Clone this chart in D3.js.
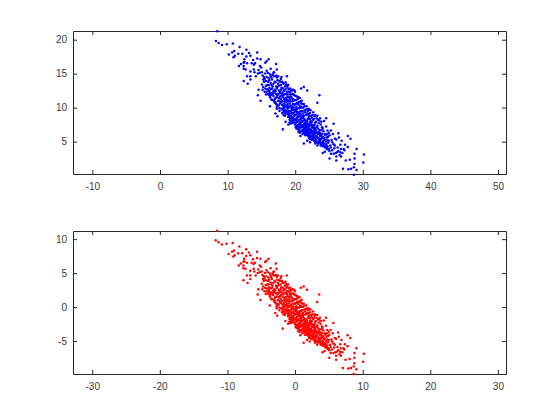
<!DOCTYPE html>
<html><head><meta charset="utf-8">
<script src="https://cdnjs.cloudflare.com/ajax/libs/d3/7.8.5/d3.min.js"></script>
<style>html,body{margin:0;background:#fff}svg{display:block}</style>
</head><body><svg id="c" width="560" height="420"></svg>
<script>
const topXTicks=[-10,0,10,20,30,40,50];
const topYTicks=[5,10,15,20];
const botXTicks=[-30,-20,-10,0,10,20,30];
const botYTicks=[-5,0,5,10];
const topXDomain=[-12.87,51.18];
const topYDomain=[0.24,21.28];
const botXDomain=[-32.84,31.2];
const botYDomain=[-9.87,11.2];
const bluePoints=[
[8.4,21.3],[8.2,19.9],[8.6,19.6],[9.1,19.3],[9.8,19.4],[10.7,19.5],[11.7,19.0],[12.7,18.6],[10.9,18.4],[10.6,18.2],[10.1,17.9],[11.0,17.7],[10.8,17.5],[11.5,18.0],[12.1,18.0],[13.1,18.1],[13.3,17.7],[14.3,18.2],[12.7,17.6],[12.4,17.2],[12.4,16.8],[12.3,16.7],[13.7,17.1],[14.3,17.3],[14.8,17.2],[16.0,17.2],[15.7,16.9],[15.5,16.7],[11.9,16.5],[11.6,16.2],[12.8,16.6],[13.5,16.6],[14.0,16.6],[13.8,16.4],[12.3,16.2],[14.7,16.2],[14.9,16.0],[17.1,16.5],[12.3,15.8],[12.6,15.7],[13.3,15.4],[13.8,15.7],[13.9,15.3],[14.5,15.6],[15.0,15.3],[16.3,15.8],[15.7,15.5],[17.2,15.7],[16.8,15.3],[12.8,14.7],[13.3,14.7],[14.1,14.7],[14.4,15.1],[14.7,15.2],[12.3,14.0],[12.9,13.6],[13.3,14.2],[14.5,12.7],[14.4,11.9],[14.8,11.1],
[23.5,11.9],[23.2,10.8],[21.7,12.6],[21.2,13.1],[20.8,12.9],[18.7,14.7],[16.2,10.3],[17.0,9.2],[17.3,8.8],[18.5,8.0],[18.9,7.6],[18.1,6.9],[25.6,7.7],[24.5,8.5],[26.3,6.3],[27.7,5.9],[28.1,5.5],[27.3,4.6],[29.0,4.0],[30.1,3.2],[30.0,2.0],[28.7,3.3],[28.7,2.6],[28.0,2.4],[27.4,2.3],[26.0,2.3],[26.0,2.9],[25.0,2.6],[24.0,3.4],[24.3,3.6],[27.0,1.1],[27.8,1.0],[28.2,1.1],[28.6,1.3],[29.0,0.9],[28.6,0.2],[28.7,1.8],[26.7,2.9],[21.2,4.8],[20.7,5.9],[21.7,5.2],[22.1,5.0],[22.9,4.8],[23.2,4.5],[24.0,4.4],[24.6,4.0],[25.2,3.3],[26.6,3.5],[27.1,4.0],[27.7,4.3],[27.2,3.8],
[15.1,14.8],[15.3,13.9],[15.2,13.1],[15.4,14.3],[15.5,15.1],[15.6,13.3],[15.7,14.6],[15.8,12.8],[15.4,12.4],[15.9,13.9],[15.1,12.7],[15.6,14.0],[15.9,15.2],[15.3,14.6],[15.8,13.4],[15.0,13.5],
[16.0,14.4],[16.1,13.0],[16.2,15.0],[16.3,13.7],[16.4,12.2],[16.5,14.2],[16.6,13.2],[16.7,11.8],[16.8,14.7],[16.9,12.7],[16.1,12.4],[16.3,14.7],[16.5,12.9],[16.7,13.6],[16.2,11.6],[16.6,14.9],[16.9,13.9],[16.0,13.4],[16.4,13.4],[16.8,12.3],[16.3,11.9],[16.7,15.2],[16.5,11.2],[16.9,11.3],[16.1,14.1],
[17.0,13.8],[17.1,12.1],[17.2,14.5],[17.3,13.1],[17.4,11.1],[17.5,12.6],[17.6,14.0],[17.7,10.7],[17.8,13.4],[17.9,11.9],[17.0,10.9],[17.2,11.6],[17.4,13.6],[17.6,12.2],[17.8,12.7],[17.1,13.2],[17.3,10.5],[17.5,11.5],[17.7,13.9],[17.9,10.9],[17.0,12.5],[17.2,12.9],[17.4,12.1],[17.6,11.0],[17.8,14.3],[17.1,14.8],[17.3,14.1],[17.5,13.3],[17.7,11.7],[17.9,13.0],[17.2,10.2],[17.6,10.0],[17.4,14.7],[17.8,11.3],[17.9,14.6],
[18.0,12.2],[18.1,10.4],[18.2,13.6],[18.3,11.3],[18.4,9.7],[18.5,12.8],[18.6,10.9],[18.7,13.3],[18.8,11.7],[18.9,9.4],[18.0,13.9],[18.1,11.6],[18.2,10.1],[18.3,12.6],[18.4,11.0],[18.5,13.8],[18.6,12.1],[18.7,10.2],[18.8,13.0],[18.9,11.0],[18.0,11.0],[18.1,12.9],[18.2,11.9],[18.3,10.7],[18.4,13.2],[18.5,10.3],[18.6,9.6],[18.7,12.4],[18.8,10.6],[18.9,12.4],[18.0,9.8],[18.2,12.5],[18.4,12.1],[18.6,13.5],[18.8,12.0],[18.1,13.7],[18.3,9.4],[18.5,11.5],[18.7,11.2],[18.9,13.4],[18.0,10.5],[18.2,9.0],[18.4,10.4],[18.6,11.5],[18.8,9.9],[18.9,10.3],
[19.0,11.6],[19.1,9.2],[19.2,12.9],[19.3,10.4],[19.4,8.6],[19.5,12.1],[19.6,9.8],[19.7,11.1],[19.8,8.9],[19.9,10.6],[19.0,10.1],[19.1,12.3],[19.2,11.0],[19.3,8.9],[19.4,11.5],[19.5,10.2],[19.6,12.7],[19.7,9.3],[19.8,11.9],[19.9,9.5],[19.0,12.8],[19.1,10.7],[19.2,9.6],[19.3,11.7],[19.4,10.0],[19.5,8.5],[19.6,11.3],[19.7,10.1],[19.8,10.5],[19.9,12.4],[19.0,8.8],[19.1,11.3],[19.2,10.3],[19.3,12.5],[19.4,9.3],[19.5,11.0],[19.6,8.7],[19.7,12.0],[19.8,9.7],[19.9,11.2],[19.0,9.6],[19.2,12.0],[19.4,12.6],[19.6,10.6],[19.8,12.6],[19.1,8.3],[19.3,9.6],[19.5,9.2],[19.7,8.4],[19.9,8.2],
[20.0,10.6],[20.1,8.3],[20.2,11.7],[20.3,9.4],[20.4,7.6],[20.5,10.9],[20.6,8.8],[20.7,10.3],[20.8,7.9],[20.9,9.6],[20.0,9.0],[20.1,11.2],[20.2,9.9],[20.3,8.0],[20.4,10.5],[20.5,9.2],[20.6,11.5],[20.7,8.4],[20.8,10.7],[20.9,8.6],[20.0,11.8],[20.1,9.6],[20.2,8.6],[20.3,10.7],[20.4,8.9],[20.5,7.3],[20.6,10.1],[20.7,9.1],[20.8,9.5],[20.9,11.1],[20.0,7.8],[20.1,10.2],[20.2,9.2],[20.3,11.4],[20.4,8.2],[20.5,10.0],[20.6,7.7],[20.7,11.0],[20.8,8.7],[20.9,10.1],[20.0,9.9],[20.2,10.8],[20.4,11.6],[20.6,9.5],[20.8,10.1],[20.1,7.4],[20.3,8.7],[20.5,8.3],[20.7,7.6],[20.9,7.2],
[21.0,9.6],[21.1,7.3],[21.2,10.6],[21.3,8.4],[21.4,6.6],[21.5,9.8],[21.6,7.8],[21.7,9.2],[21.8,6.9],[21.9,8.6],[21.0,8.0],[21.1,10.1],[21.2,8.9],[21.3,7.0],[21.4,9.4],[21.5,8.2],[21.6,10.3],[21.7,7.4],[21.8,9.6],[21.9,7.6],[21.0,10.6],[21.1,8.6],[21.2,7.6],[21.3,9.7],[21.4,7.9],[21.5,6.4],[21.6,9.0],[21.7,8.1],[21.8,8.4],[21.9,9.9],[21.0,6.8],[21.1,9.2],[21.2,8.2],[21.3,10.3],[21.4,7.2],[21.5,9.0],[21.6,6.7],[21.7,9.8],[21.8,7.7],[21.9,9.1],[21.0,8.9],[21.3,7.7],[21.5,7.6],[21.7,6.5],[21.9,6.4],
[22.0,8.8],[22.1,6.6],[22.2,9.7],[22.3,7.7],[22.4,5.9],[22.5,9.0],[22.6,7.1],[22.7,8.4],[22.8,6.2],[22.9,7.9],[22.0,7.3],[22.1,9.3],[22.2,8.1],[22.3,6.3],[22.4,8.6],[22.5,7.5],[22.6,9.4],[22.7,6.7],[22.8,8.8],[22.9,6.9],[22.0,9.8],[22.1,7.9],[22.2,6.9],[22.3,8.9],[22.4,7.2],[22.5,5.7],[22.6,8.3],[22.7,7.4],[22.8,7.6],[22.9,9.0],[22.0,6.1],[22.1,8.4],[22.2,7.5],[22.3,6.8],[22.5,6.4],[22.7,5.8],[22.9,5.6],[22.4,8.0],[22.6,6.0],[22.8,7.1],
[23.0,8.0],[23.1,5.9],[23.2,8.9],[23.3,7.0],[23.4,5.2],[23.5,8.2],[23.6,6.4],[23.7,7.6],[23.8,5.5],[23.9,7.2],[23.0,6.6],[23.1,8.5],[23.2,7.4],[23.3,5.6],[23.4,7.8],[23.5,6.8],[23.6,8.5],[23.7,6.0],[23.8,8.0],[23.9,6.2],[23.0,5.3],[23.2,6.3],[23.4,6.5],[23.6,5.1],[23.8,6.8],[23.1,7.2],[23.3,8.3],[23.5,5.5],[23.7,4.9],[23.9,4.8],
[24.0,7.0],[24.1,5.2],[24.2,8.1],[24.3,6.2],[24.4,4.5],[24.5,7.3],[24.6,5.7],[24.7,6.7],[24.8,4.9],[24.9,6.4],[24.0,5.8],[24.2,4.8],[24.4,6.0],[24.6,4.2],[24.8,5.8],[24.1,6.6],[24.3,4.3],[24.5,5.1],[24.7,4.4],[24.9,4.0],
[25.0,6.0],[25.1,4.5],[25.2,6.7],[25.3,5.3],[25.4,3.8],[25.5,6.2],[25.6,4.7],[25.7,4.1],[25.8,5.5],[25.9,3.4],[25.0,3.7],[25.2,4.2],[25.4,5.0],[25.6,3.3],[25.8,4.5],
[26.0,5.4],[26.2,4.2],[26.4,5.7],[26.6,4.6],[26.8,5.2],[26.1,3.5],[26.3,3.7],[26.5,3.1],[26.7,4.0],[26.9,3.4],
[15.2,14.2],[15.5,12.9],[15.7,12.4],[15.9,12.1],[16.1,11.9],[16.3,12.8],[16.4,11.3],[16.6,12.1],[16.8,11.0],[16.0,12.6],[15.6,12.0],[16.2,12.2],[16.4,14.5],[16.7,12.5],[16.9,10.8],[17.0,11.5],[17.1,10.6],[17.2,9.9],[17.3,11.9],[17.5,10.4],[17.6,9.6],[17.7,12.4],[17.9,9.9],[18.0,9.3],[18.2,9.6],[18.4,8.9],[18.6,10.4],[18.8,9.1],[18.9,8.7],[18.3,10.0],[18.5,9.2],[18.7,9.5],
[19.0,9.0],[19.1,7.9],[19.2,8.5],[19.3,8.2],[19.4,9.7],[19.5,7.8],[19.6,9.2],[19.7,7.9],[19.8,8.4],[19.9,9.0],[19.2,7.7],[19.6,8.2],[19.9,7.6],[19.4,8.0],
[20.0,8.4],[20.1,7.0],[20.2,8.0],[20.3,6.9],[20.4,7.2],[20.5,6.8],[20.6,7.1],[20.7,8.0],[20.8,7.3],[20.9,6.7],[20.0,7.2],[20.2,7.4],[20.4,6.5],[20.6,6.4],[20.8,6.6],[20.9,8.2],
[21.0,7.5],[21.1,6.6],[21.2,7.0],[21.3,6.3],[21.4,7.5],[21.5,6.9],[21.6,7.2],[21.7,6.0],[21.8,6.2],[21.9,7.1],[21.0,6.2],[21.2,6.5],[21.4,6.0],[21.6,6.1],[21.8,7.3],[21.9,5.8],
[22.0,6.7],[22.1,5.7],[22.2,6.3],[22.3,5.4],[22.4,6.6],[22.5,6.0],[22.6,6.5],[22.7,5.2],[22.8,5.7],[22.9,6.4],[22.0,5.5],[22.2,5.9],[22.4,5.4],[22.6,5.5],[22.8,5.2],[22.9,5.0],
[23.0,5.9],[23.1,5.0],[23.2,5.7],[23.3,6.2],[23.4,4.8],[23.5,5.0],[23.6,5.9],[23.7,5.4],[23.8,4.7],[23.9,5.7],[23.1,6.4],[23.3,4.9],[23.5,6.2],[23.7,4.5],
[24.0,5.0],[24.1,4.6],[24.2,5.6],[24.3,5.4],[24.4,4.2],[24.5,4.7],[24.6,6.2],[24.7,5.3],[24.8,3.9],[24.9,5.2]
];
const redPoints=[
[-11.6,11.3],[-11.8,9.9],[-11.4,9.6],[-10.9,9.3],[-10.2,9.4],[-9.3,9.5],[-8.3,9.0],[-7.3,8.6],[-9.1,8.4],[-9.4,8.2],[-9.9,7.9],[-9.0,7.7],[-9.2,7.5],[-8.5,8.0],[-7.9,8.0],[-6.9,8.1],[-6.7,7.7],[-5.7,8.2],[-7.3,7.6],[-7.6,7.2],[-7.6,6.8],[-7.7,6.7],[-6.3,7.1],[-5.7,7.3],[-5.2,7.2],[-4.0,7.2],[-4.3,6.9],[-4.5,6.7],[-8.1,6.5],[-8.4,6.2],[-7.2,6.6],[-6.5,6.6],[-6.0,6.6],[-6.2,6.4],[-7.7,6.2],[-5.3,6.2],[-5.1,6.0],[-2.9,6.5],[-7.7,5.8],[-7.4,5.7],[-6.7,5.4],[-6.2,5.7],[-6.1,5.3],[-5.5,5.6],[-5.0,5.3],[-3.7,5.8],[-4.3,5.5],[-2.8,5.7],[-3.2,5.3],[-7.2,4.7],[-6.7,4.7],[-5.9,4.7],[-5.6,5.1],[-5.3,5.2],[-7.7,4.0],[-7.1,3.6],[-6.7,4.2],[-5.5,2.7],[-5.6,1.9],[-5.2,1.1],
[3.5,1.9],[3.2,0.8],[1.7,2.6],[1.2,3.1],[0.8,2.9],[-1.3,4.7],[-3.8,0.3],[-3.0,-0.8],[-2.7,-1.2],[-1.5,-2.0],[-1.1,-2.4],[-1.9,-3.1],[5.6,-2.3],[4.5,-1.5],[6.3,-3.7],[7.7,-4.1],[8.1,-4.5],[7.3,-5.4],[9.0,-6.0],[10.1,-6.8],[10.0,-8.0],[8.7,-6.7],[8.7,-7.4],[8.0,-7.6],[7.4,-7.7],[6.0,-7.7],[6.0,-7.1],[5.0,-7.4],[4.0,-6.6],[4.3,-6.4],[7.0,-8.9],[7.8,-9.0],[8.2,-8.9],[8.6,-8.7],[9.0,-9.1],[8.6,-9.8],[8.7,-8.2],[6.7,-7.1],[1.2,-5.2],[0.7,-4.1],[1.7,-4.8],[2.1,-5.0],[2.9,-5.2],[3.2,-5.5],[4.0,-5.6],[4.6,-6.0],[5.2,-6.7],[6.6,-6.5],[7.1,-6.0],[7.7,-5.7],[7.2,-6.2],
[-4.9,4.8],[-4.7,3.9],[-4.8,3.1],[-4.6,4.3],[-4.5,5.1],[-4.4,3.3],[-4.3,4.6],[-4.2,2.8],[-4.6,2.4],[-4.1,3.9],[-4.9,2.7],[-4.4,4.0],[-4.1,5.2],[-4.7,4.6],[-4.2,3.4],[-5.0,3.5],
[-4.0,4.4],[-3.9,3.0],[-3.8,5.0],[-3.7,3.7],[-3.6,2.2],[-3.5,4.2],[-3.4,3.2],[-3.3,1.8],[-3.2,4.7],[-3.1,2.7],[-3.9,2.4],[-3.7,4.7],[-3.5,2.9],[-3.3,3.6],[-3.8,1.6],[-3.4,4.9],[-3.1,3.9],[-4.0,3.4],[-3.6,3.4],[-3.2,2.3],[-3.7,1.9],[-3.3,5.2],[-3.5,1.2],[-3.1,1.3],[-3.9,4.1],
[-3.0,3.8],[-2.9,2.1],[-2.8,4.5],[-2.7,3.1],[-2.6,1.1],[-2.5,2.6],[-2.4,4.0],[-2.3,0.7],[-2.2,3.4],[-2.1,1.9],[-3.0,0.9],[-2.8,1.6],[-2.6,3.6],[-2.4,2.2],[-2.2,2.7],[-2.9,3.2],[-2.7,0.5],[-2.5,1.5],[-2.3,3.9],[-2.1,0.9],[-3.0,2.5],[-2.8,2.9],[-2.6,2.1],[-2.4,1.0],[-2.2,4.3],[-2.9,4.8],[-2.7,4.1],[-2.5,3.3],[-2.3,1.7],[-2.1,3.0],[-2.8,0.2],[-2.4,0.0],[-2.6,4.7],[-2.2,1.3],[-2.1,4.6],
[-2.0,2.2],[-1.9,0.4],[-1.8,3.6],[-1.7,1.3],[-1.6,-0.3],[-1.5,2.8],[-1.4,0.9],[-1.3,3.3],[-1.2,1.7],[-1.1,-0.6],[-2.0,3.9],[-1.9,1.6],[-1.8,0.1],[-1.7,2.6],[-1.6,1.0],[-1.5,3.8],[-1.4,2.1],[-1.3,0.2],[-1.2,3.0],[-1.1,1.0],[-2.0,1.0],[-1.9,2.9],[-1.8,1.9],[-1.7,0.7],[-1.6,3.2],[-1.5,0.3],[-1.4,-0.4],[-1.3,2.4],[-1.2,0.6],[-1.1,2.4],[-2.0,-0.2],[-1.8,2.5],[-1.6,2.1],[-1.4,3.5],[-1.2,2.0],[-1.9,3.7],[-1.7,-0.6],[-1.5,1.5],[-1.3,1.2],[-1.1,3.4],[-2.0,0.5],[-1.8,-1.0],[-1.6,0.4],[-1.4,1.5],[-1.2,-0.1],[-1.1,0.3],
[-1.0,1.6],[-0.9,-0.8],[-0.8,2.9],[-0.7,0.4],[-0.6,-1.4],[-0.5,2.1],[-0.4,-0.2],[-0.3,1.1],[-0.2,-1.1],[-0.1,0.6],[-1.0,0.1],[-0.9,2.3],[-0.8,1.0],[-0.7,-1.1],[-0.6,1.5],[-0.5,0.2],[-0.4,2.7],[-0.3,-0.7],[-0.2,1.9],[-0.1,-0.5],[-1.0,2.8],[-0.9,0.7],[-0.8,-0.4],[-0.7,1.7],[-0.6,0.0],[-0.5,-1.5],[-0.4,1.3],[-0.3,0.1],[-0.2,0.5],[-0.1,2.4],[-1.0,-1.2],[-0.9,1.3],[-0.8,0.3],[-0.7,2.5],[-0.6,-0.7],[-0.5,1.0],[-0.4,-1.3],[-0.3,2.0],[-0.2,-0.3],[-0.1,1.2],[-1.0,-0.4],[-0.8,2.0],[-0.6,2.6],[-0.4,0.6],[-0.2,2.6],[-0.9,-1.7],[-0.7,-0.4],[-0.5,-0.8],[-0.3,-1.6],[-0.1,-1.8],
[0.0,0.6],[0.1,-1.7],[0.2,1.7],[0.3,-0.6],[0.4,-2.4],[0.5,0.9],[0.6,-1.2],[0.7,0.3],[0.8,-2.1],[0.9,-0.4],[0.0,-1.0],[0.1,1.2],[0.2,-0.1],[0.3,-2.0],[0.4,0.5],[0.5,-0.8],[0.6,1.5],[0.7,-1.6],[0.8,0.7],[0.9,-1.4],[0.0,1.8],[0.1,-0.4],[0.2,-1.4],[0.3,0.7],[0.4,-1.1],[0.5,-2.7],[0.6,0.1],[0.7,-0.9],[0.8,-0.5],[0.9,1.1],[0.0,-2.2],[0.1,0.2],[0.2,-0.8],[0.3,1.4],[0.4,-1.8],[0.5,0.0],[0.6,-2.3],[0.7,1.0],[0.8,-1.3],[0.9,0.1],[0.0,-0.1],[0.2,0.8],[0.4,1.6],[0.6,-0.5],[0.8,0.1],[0.1,-2.6],[0.3,-1.3],[0.5,-1.7],[0.7,-2.4],[0.9,-2.8],
[1.0,-0.4],[1.1,-2.7],[1.2,0.6],[1.3,-1.6],[1.4,-3.4],[1.5,-0.2],[1.6,-2.2],[1.7,-0.8],[1.8,-3.1],[1.9,-1.4],[1.0,-2.0],[1.1,0.1],[1.2,-1.1],[1.3,-3.0],[1.4,-0.6],[1.5,-1.8],[1.6,0.3],[1.7,-2.6],[1.8,-0.4],[1.9,-2.4],[1.0,0.6],[1.1,-1.4],[1.2,-2.4],[1.3,-0.3],[1.4,-2.1],[1.5,-3.6],[1.6,-1.0],[1.7,-1.9],[1.8,-1.6],[1.9,-0.1],[1.0,-3.2],[1.1,-0.8],[1.2,-1.8],[1.3,0.3],[1.4,-2.8],[1.5,-1.0],[1.6,-3.3],[1.7,-0.2],[1.8,-2.3],[1.9,-0.9],[1.0,-1.1],[1.3,-2.3],[1.5,-2.4],[1.7,-3.5],[1.9,-3.6],
[2.0,-1.2],[2.1,-3.4],[2.2,-0.3],[2.3,-2.3],[2.4,-4.1],[2.5,-1.0],[2.6,-2.9],[2.7,-1.6],[2.8,-3.8],[2.9,-2.1],[2.0,-2.7],[2.1,-0.7],[2.2,-1.9],[2.3,-3.7],[2.4,-1.4],[2.5,-2.5],[2.6,-0.6],[2.7,-3.3],[2.8,-1.2],[2.9,-3.1],[2.0,-0.2],[2.1,-2.1],[2.2,-3.1],[2.3,-1.1],[2.4,-2.8],[2.5,-4.3],[2.6,-1.7],[2.7,-2.6],[2.8,-2.4],[2.9,-1.0],[2.0,-3.9],[2.1,-1.6],[2.2,-2.5],[2.3,-3.2],[2.5,-3.6],[2.7,-4.2],[2.9,-4.4],[2.4,-2.0],[2.6,-4.0],[2.8,-2.9],
[3.0,-2.0],[3.1,-4.1],[3.2,-1.1],[3.3,-3.0],[3.4,-4.8],[3.5,-1.8],[3.6,-3.6],[3.7,-2.4],[3.8,-4.5],[3.9,-2.8],[3.0,-3.4],[3.1,-1.5],[3.2,-2.6],[3.3,-4.4],[3.4,-2.2],[3.5,-3.2],[3.6,-1.5],[3.7,-4.0],[3.8,-2.0],[3.9,-3.8],[3.0,-4.7],[3.2,-3.7],[3.4,-3.5],[3.6,-4.9],[3.8,-3.2],[3.1,-2.8],[3.3,-1.7],[3.5,-4.5],[3.7,-5.1],[3.9,-5.2],
[4.0,-3.0],[4.1,-4.8],[4.2,-1.9],[4.3,-3.8],[4.4,-5.5],[4.5,-2.7],[4.6,-4.3],[4.7,-3.3],[4.8,-5.1],[4.9,-3.6],[4.0,-4.2],[4.2,-5.2],[4.4,-4.0],[4.6,-5.8],[4.8,-4.2],[4.1,-3.4],[4.3,-5.7],[4.5,-4.9],[4.7,-5.6],[4.9,-6.0],
[5.0,-4.0],[5.1,-5.5],[5.2,-3.3],[5.3,-4.7],[5.4,-6.2],[5.5,-3.8],[5.6,-5.3],[5.7,-5.9],[5.8,-4.5],[5.9,-6.6],[5.0,-6.3],[5.2,-5.8],[5.4,-5.0],[5.6,-6.7],[5.8,-5.5],
[6.0,-4.6],[6.2,-5.8],[6.4,-4.3],[6.6,-5.4],[6.8,-4.8],[6.1,-6.5],[6.3,-6.3],[6.5,-6.9],[6.7,-6.0],[6.9,-6.6],
[-4.8,4.2],[-4.5,2.9],[-4.3,2.4],[-4.1,2.1],[-3.9,1.9],[-3.7,2.8],[-3.6,1.3],[-3.4,2.1],[-3.2,1.0],[-4.0,2.6],[-4.4,2.0],[-3.8,2.2],[-3.6,4.5],[-3.3,2.5],[-3.1,0.8],[-3.0,1.5],[-2.9,0.6],[-2.8,-0.1],[-2.7,1.9],[-2.5,0.4],[-2.4,-0.4],[-2.3,2.4],[-2.1,-0.1],[-2.0,-0.7],[-1.8,-0.4],[-1.6,-1.1],[-1.4,0.4],[-1.2,-0.9],[-1.1,-1.3],[-1.7,0.0],[-1.5,-0.8],[-1.3,-0.5],
[-1.0,-1.0],[-0.9,-2.1],[-0.8,-1.5],[-0.7,-1.8],[-0.6,-0.3],[-0.5,-2.2],[-0.4,-0.8],[-0.3,-2.1],[-0.2,-1.6],[-0.1,-1.0],[-0.8,-2.3],[-0.4,-1.8],[-0.1,-2.4],[-0.6,-2.0],
[0.0,-1.6],[0.1,-3.0],[0.2,-2.0],[0.3,-3.1],[0.4,-2.8],[0.5,-3.2],[0.6,-2.9],[0.7,-2.0],[0.8,-2.7],[0.9,-3.3],[0.0,-2.8],[0.2,-2.6],[0.4,-3.5],[0.6,-3.6],[0.8,-3.4],[0.9,-1.8],
[1.0,-2.5],[1.1,-3.4],[1.2,-3.0],[1.3,-3.7],[1.4,-2.5],[1.5,-3.1],[1.6,-2.8],[1.7,-4.0],[1.8,-3.8],[1.9,-2.9],[1.0,-3.8],[1.2,-3.5],[1.4,-4.0],[1.6,-3.9],[1.8,-2.7],[1.9,-4.2],
[2.0,-3.3],[2.1,-4.3],[2.2,-3.7],[2.3,-4.6],[2.4,-3.4],[2.5,-4.0],[2.6,-3.5],[2.7,-4.8],[2.8,-4.3],[2.9,-3.6],[2.0,-4.5],[2.2,-4.1],[2.4,-4.6],[2.6,-4.5],[2.8,-4.8],[2.9,-5.0],
[3.0,-4.1],[3.1,-5.0],[3.2,-4.3],[3.3,-3.8],[3.4,-5.2],[3.5,-5.0],[3.6,-4.1],[3.7,-4.6],[3.8,-5.3],[3.9,-4.3],[3.1,-3.6],[3.3,-5.1],[3.5,-3.8],[3.7,-5.5],
[4.0,-5.0],[4.1,-5.4],[4.2,-4.4],[4.3,-4.6],[4.4,-5.8],[4.5,-5.3],[4.6,-3.8],[4.7,-4.7],[4.8,-6.1],[4.9,-4.8]
];
const svg=d3.select("#c");
const left=73,right=506,axisColor="#262626",labelColor="#3a3a3a";
function panel(top,bottom,xDomain,yDomain,xTicks,yTicks,points,color){
  const x=d3.scaleLinear().domain(xDomain).range([left,right]);
  const y=d3.scaleLinear().domain(yDomain).range([bottom,top]);
  const g=svg.append("g");
  const fmt=d=>String(d);
  const axes=[
    [d3.axisBottom(x).tickValues(xTicks).tickFormat(fmt).tickSizeInner(-4).tickSizeOuter(0).tickPadding(8.5),0,bottom],
    [d3.axisTop(x).tickValues(xTicks).tickFormat("").tickSizeInner(-4).tickSizeOuter(0),0,top],
    [d3.axisLeft(y).tickValues(yTicks).tickFormat(fmt).tickSizeInner(-4).tickSizeOuter(0).tickPadding(6),left,0],
    [d3.axisRight(y).tickValues(yTicks).tickFormat("").tickSizeInner(-4).tickSizeOuter(0),right,0]
  ];
  axes.forEach(([a,tx,ty])=>{
    const ag=g.append("g").attr("transform",`translate(${tx},${ty})`).call(a);
    ag.selectAll("path,line").attr("stroke",axisColor).attr("stroke-width",1);
    ag.selectAll("text").attr("fill",labelColor).style("font-family","'Liberation Sans',Arial,sans-serif").style("font-size","10px");
  });
  g.append("g").selectAll("circle").data(points).join("circle")
    .attr("cx",d=>x(d[0])+.5).attr("cy",d=>y(d[1])+.5).attr("r",1.25).attr("fill",color);
}
panel(31,174,topXDomain,topYDomain,topXTicks,topYTicks,bluePoints,"#0000ff");
panel(231,374,botXDomain,botYDomain,botXTicks,botYTicks,redPoints,"#ff0000");
</script></body></html>
